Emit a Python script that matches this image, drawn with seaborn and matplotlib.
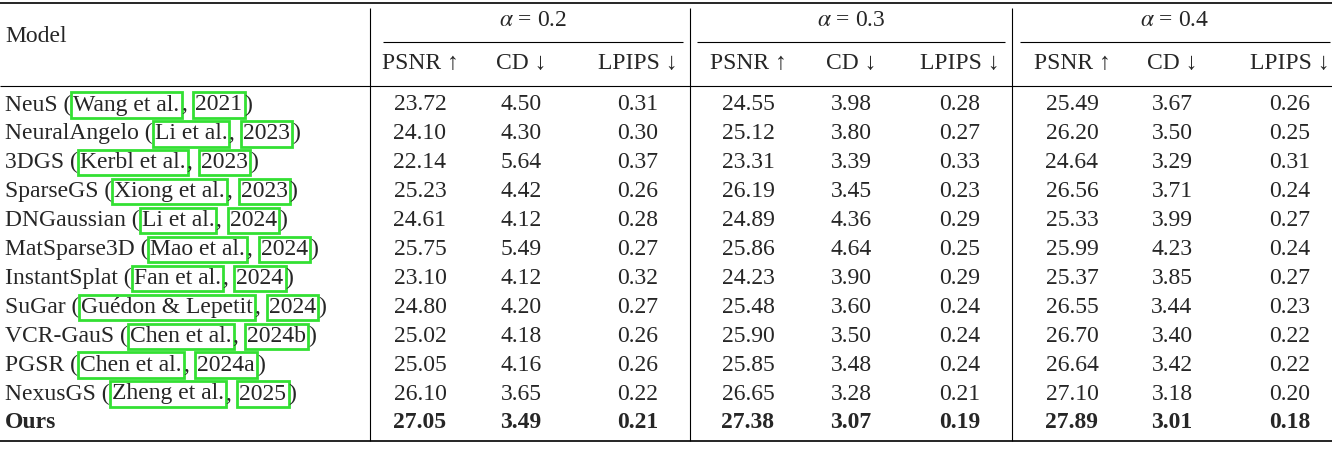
import matplotlib
matplotlib.use("Agg")
import matplotlib.pyplot as plt
import seaborn as sns

sns.set_theme(style="white")
plt.rcParams['font.family'] = ['Liberation Serif', 'DejaVu Serif']
plt.rcParams['mathtext.fontset'] = 'stix'

models = ["NeuS", "NeuralAngelo", "3DGS", "SparseGS", "DNGaussian", "MatSparse3D",
          "InstantSplat", "SuGar", "VCR-GauS", "PGSR", "NexusGS", "Ours"]
authors = ["Wang et al.", "Li et al.", "Kerbl et al.", "Xiong et al.", "Li et al.", "Mao et al.",
           "Fan et al.", "Guédon & Lepetit", "Chen et al.", "Chen et al.", "Zheng et al.", None]
years = ["2021", "2023", "2023", "2023", "2024", "2024", "2024", "2024", "2024b", "2024a", "2025", None]
alphas = ["0.2", "0.3", "0.4"]
metrics = ["PSNR ↑", "CD ↓", "LPIPS ↓"]
values = [
    [23.72, 4.50, 0.31, 24.55, 3.98, 0.28, 25.49, 3.67, 0.26],
    [24.10, 4.30, 0.30, 25.12, 3.80, 0.27, 26.20, 3.50, 0.25],
    [22.14, 5.64, 0.37, 23.31, 3.39, 0.33, 24.64, 3.29, 0.31],
    [25.23, 4.42, 0.26, 26.19, 3.45, 0.23, 26.56, 3.71, 0.24],
    [24.61, 4.12, 0.28, 24.89, 4.36, 0.29, 25.33, 3.99, 0.27],
    [25.75, 5.49, 0.27, 25.86, 4.64, 0.25, 25.99, 4.23, 0.24],
    [23.10, 4.12, 0.32, 24.23, 3.90, 0.29, 25.37, 3.85, 0.27],
    [24.80, 4.20, 0.27, 25.48, 3.60, 0.24, 26.55, 3.44, 0.23],
    [25.02, 4.18, 0.26, 25.90, 3.50, 0.24, 26.70, 3.40, 0.22],
    [25.05, 4.16, 0.26, 25.85, 3.48, 0.24, 26.64, 3.42, 0.22],
    [26.10, 3.65, 0.22, 26.65, 3.28, 0.21, 27.10, 3.18, 0.20],
    [27.05, 3.49, 0.21, 27.38, 3.07, 0.19, 27.89, 3.01, 0.18],
]

W, H = 1332, 449
fig = plt.figure(figsize=(W / 100, H / 100), dpi=100)
ax = fig.add_axes([0, 0, 1, 1])
ax.set_xlim(0, W)
ax.set_ylim(H, 0)
ax.axis("off")
fs = 17
green = "#33e033"

col_x = [420, 521, 638, 748, 851, 960, 1072, 1172, 1290]
group_spans = [(383, 683), (697, 1005), (1020, 1330)]
row_y = [105 + i * 28.9 for i in range(len(models))]

# rules
ax.hlines(3, 0, W, color="black", lw=1.2)
ax.hlines(86, 0, W, color="black", lw=0.8)
ax.hlines(441, 0, W, color="black", lw=1.2)
for a, b in group_spans:
    ax.hlines(42, a, b, color="black", lw=0.8)
for vx in [370, 690, 1012]:
    ax.vlines(vx, 8, 441, color="black", lw=0.8)

ax.text(5, 36, "Model", fontsize=fs, va="center", ha="left")
for (a, b), al in zip(group_spans, alphas):
    ax.text((a + b) / 2, 20, r"$\alpha$ = %s" % al, fontsize=fs, ha="center", va="center")
for i, x in enumerate(col_x):
    ax.text(x, 64, metrics[i % 3], fontsize=fs, ha="center", va="center")

fig.canvas.draw()
r = fig.canvas.get_renderer()

def put(x, y, s, box=False, **kw):
    t = ax.text(x, y, s, fontsize=fs, va="center", ha="left", **kw)
    if box:
        t.set_bbox(dict(facecolor="none", edgecolor=green, lw=2, pad=1.5))
    bb = t.get_window_extent(renderer=r)
    return x + bb.width + (2 if box else 0)

for i, m in enumerate(models):
    y = row_y[i]
    if authors[i] is None:
        put(5, y, m, fontweight="bold")
    else:
        x = put(5, y, m + " (")
        x = put(x + 2, y, authors[i], box=True)
        x = put(x, y, ", ")
        x = put(x + 2, y, years[i], box=True)
        put(x, y, ")")
    for j, v in enumerate(values[i]):
        ax.text(col_x[j], y, f"{v:.2f}", fontsize=fs, ha="center", va="center",
                fontweight="bold" if m == "Ours" else "normal")

fig.savefig("out.png", dpi=100)
